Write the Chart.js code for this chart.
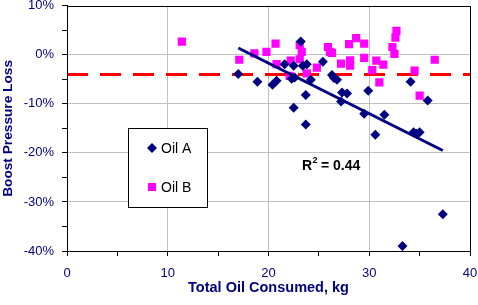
<!DOCTYPE html>
<html>
<head>
<meta charset="utf-8">
<script src="https://cdn.jsdelivr.net/npm/chart.js@4/dist/chart.umd.min.js"></script>
<style>
  html, body { margin: 0; padding: 0; background: #fff; }
  #wrap { width: 478px; height: 305px; }
</style>
</head>
<body>
<div id="wrap"><canvas id="c" width="478" height="305"></canvas></div>
<script>
// values (x = kg, y = %)
const oilAx = [17.0, 18.9, 20.4, 20.8, 21.6, 22.3, 22.5, 22.5, 22.6, 23.2, 23.4, 23.8, 23.7, 23.7, 24.2, 25.4,
  26.3, 26.5, 26.8, 27.3, 27.8, 27.2, 29.9, 29.5, 31.5, 30.6, 34.1, 35.8, 34.4, 35.0, 34.7, 37.3, 33.3];
const oilAy = [-3.9, -5.5, -6.1, -5.3, -1.9, -4.9, -10.8, -2.2, -4.6, 2.7, -2.2, -1.9, -8.2, -14.2, -5.1, -1.4,
  -4.1, -4.7, -5.1, -7.7, -7.9, -9.5, -7.3, -12.0, -12.2, -16.3, -5.5, -9.3, -15.8, -15.8, -16.1, -32.5, -39.0];

const oilBx = [11.4, 17.1, 18.6, 19.8, 20.7, 20.8, 22.2, 22.1, 23.1, 23.3, 23.1, 23.8, 24.8, 25.9, 26.1, 26.3,
  27.2, 28.0, 28.1, 28.1, 28.7, 29.5, 29.5, 30.3, 30.7, 31.0, 31.4, 32.3, 32.5, 32.6, 32.7, 34.5, 35.0, 36.5];
const oilBy = [2.7, -1.0, 0.3, 0.6, 2.3, -1.9, -1.2, -4.3, 2.0, 0.6, -0.9, -3.8, -2.6, 1.6, 0.6, 0.4,
  -1.8, 2.2, -1.1, -2.2, 3.4, 2.3, -0.6, -3.1, -1.2, -5.6, -2.0, 1.6, 0.2, 3.5, 4.9, -3.2, -8.3, -1.0];

// linear trendline of Oil A, ends as drawn
const trendX = [17.0, 37.3];
const trendY = [1.4, -19.5];
const r2Text = '0.44';

// limit line
const limitX = [0, 40];
const limitY = [-4, -4];

const xTicks = [0, 10, 20, 30, 40];
const yTicks = [10, 0, -10, -20, -30, -40];

const navy = '#000080';
const pink = '#ff00ff';
const font = 'Liberation Sans, Arial, sans-serif';

const pts = (xs, ys) => xs.map((x, i) => ({ x: x, y: ys[i] }));

const frameAndNotes = {
  id: 'frameAndNotes',
  afterDraw(chart) {
    const { ctx, chartArea: a } = chart;
    ctx.save();
    ctx.strokeStyle = '#000';
    ctx.lineWidth = 1;
    ctx.strokeRect(Math.round(a.left) + 0.5, Math.round(a.top) + 0.5,
      Math.round(a.right - a.left), Math.round(a.bottom - a.top));

    // legend box
    ctx.fillStyle = '#fff';
    ctx.fillRect(128, 128, 79, 79);
    ctx.strokeRect(128.5, 128.5, 79, 79);
    ctx.fillStyle = navy;
    ctx.beginPath();
    ctx.moveTo(152, 143); ctx.lineTo(157, 148); ctx.lineTo(152, 153); ctx.lineTo(147, 148);
    ctx.closePath();
    ctx.fill();
    ctx.fillStyle = pink;
    ctx.fillRect(148, 183, 8, 8);
    ctx.fillStyle = '#000';
    ctx.font = '14px ' + font;
    ctx.textBaseline = 'alphabetic';
    ctx.fillText(chart.data.datasets[1].label, 161, 153);
    ctx.fillText(chart.data.datasets[2].label, 161, 192);

    // R squared
    ctx.font = 'bold 14px ' + font;
    ctx.fillText('R', 302, 170);
    const rw = ctx.measureText('R').width;
    ctx.font = 'bold 9px ' + font;
    ctx.fillText('2', 302 + rw + 0.5, 163);
    ctx.font = 'bold 14px ' + font;
    ctx.fillText(' = ' + r2Text, 302 + rw + 5, 170);
    ctx.restore();
  }
};

new Chart(document.getElementById('c'), {
  type: 'scatter',
  data: {
    datasets: [
      {
        type: 'line', label: 'Trend', data: pts(trendX, trendY),
        borderColor: navy, borderWidth: 3, pointRadius: 0, fill: false, order: 0
      },
      {
        label: 'Oil A', data: pts(oilAx, oilAy),
        pointStyle: 'rectRot', pointRadius: 5, pointHoverRadius: 5,
        backgroundColor: navy, borderColor: navy, borderWidth: 0, order: 1
      },
      {
        label: 'Oil B', data: pts(oilBx, oilBy),
        pointStyle: 'rect', pointRadius: 5.8, pointHoverRadius: 5.8,
        backgroundColor: pink, borderColor: pink, borderWidth: 0, order: 2
      },
      {
        type: 'line', label: 'Limit', data: pts(limitX, limitY),
        borderColor: '#ff0000', borderWidth: 3, borderDash: [21, 12], pointRadius: 0,
        fill: false, order: 3, borderCapStyle: 'butt'
      }
    ]
  },
  options: {
    responsive: false,
    animation: false,
    layout: { padding: { left: 0, right: 8, top: 5, bottom: 0 } },
    plugins: { legend: { display: false }, tooltip: { enabled: false } },
    scales: {
      x: {
        type: 'linear', min: 0, max: 40,
        afterBuildTicks: s => { s.ticks = [0, 5, 10, 15, 20, 25, 30, 35, 40].map(v => ({ value: v })); },
        afterFit: s => { s.height = 54; s.paddingLeft = 0; s.paddingRight = 0; },
        grid: {
          color: c => (c.tick && xTicks.includes(c.tick.value) && c.tick.value !== 0 && c.tick.value !== 40) ? '#c0c0c0' : 'transparent',
          tickColor: '#000', tickLength: 5, drawTicks: true
        },
        border: { color: '#000', width: 1 },
        ticks: {
          color: navy, font: { family: font, size: 13 }, padding: 10, maxRotation: 0,
          callback: v => xTicks.includes(v) ? String(v) : ''
        },
        title: {
          display: true, text: 'Total Oil Consumed, kg', color: navy,
          font: { family: font, size: 14.5, weight: 'bold' }, padding: { top: 0, bottom: 8 }
        }
      },
      y: {
        type: 'linear', min: -40, max: 10,
        afterBuildTicks: s => { s.ticks = [-40, -35, -30, -25, -20, -15, -10, -5, 0, 5, 10].map(v => ({ value: v })); },
        afterFit: s => { s.width = 67; s.paddingTop = 0; s.paddingBottom = 0; },
        grid: {
          color: c => (c.tick && yTicks.includes(c.tick.value) && c.tick.value !== 10 && c.tick.value !== -40) ? '#c0c0c0' : 'transparent',
          tickColor: '#000', tickLength: 5
        },
        border: { color: '#000', width: 1 },
        ticks: {
          color: navy, font: { family: font, size: 13 }, padding: 8,
          callback: v => yTicks.includes(v) ? v + '%' : ''
        },
        title: {
          display: true, text: 'Boost Pressure Loss', color: navy,
          font: { family: font, size: 13.7, weight: 'bold' }, padding: { top: 0, bottom: 0 }
        }
      }
    }
  },
  plugins: [frameAndNotes]
});
</script>
</body>
</html>
